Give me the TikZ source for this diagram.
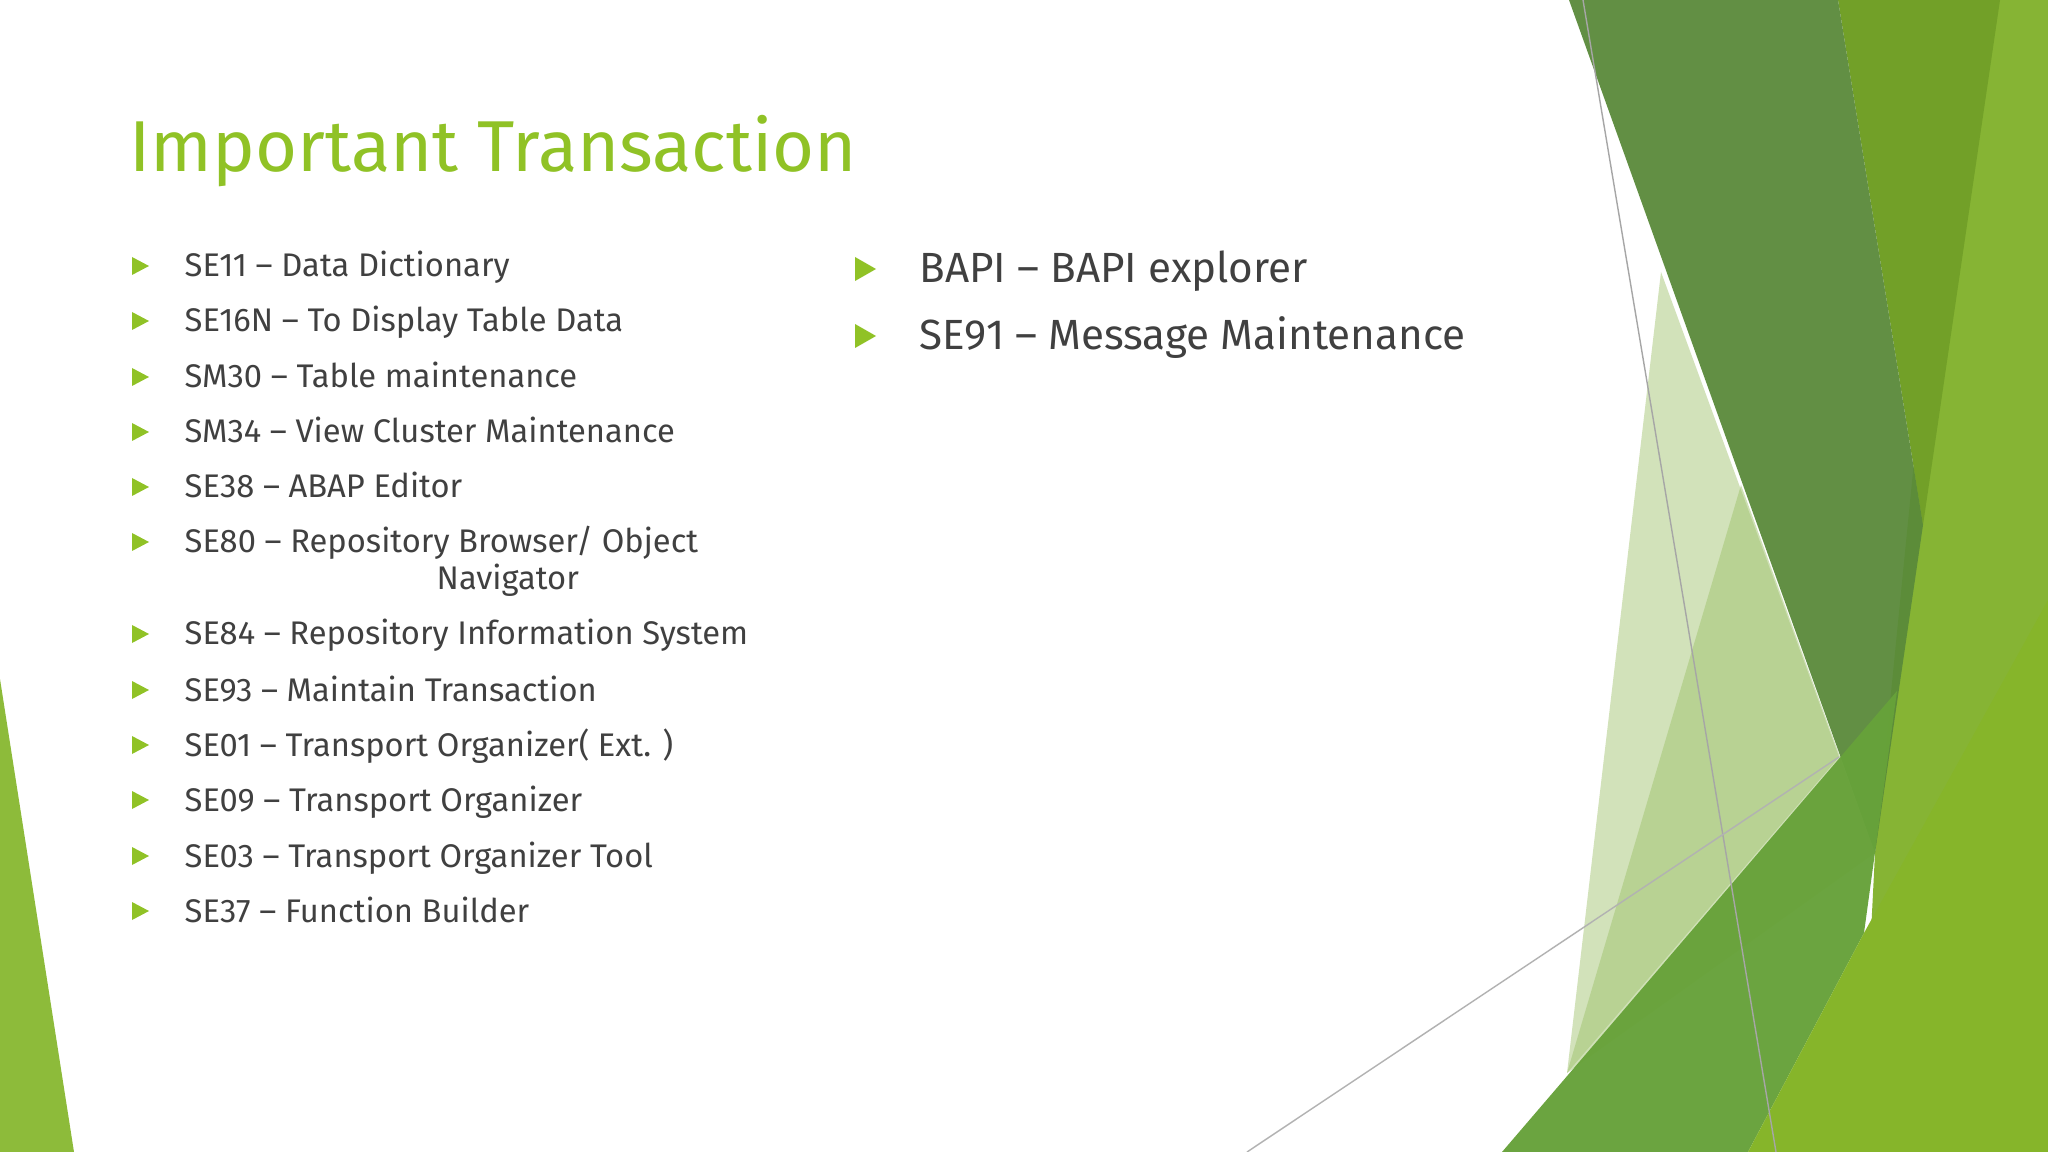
\documentclass[tikz,border=0pt]{standalone}
\usepackage{fontspec}
\setmainfont{Fira Sans}
\definecolor{tgreen}{HTML}{90C226}
\definecolor{ttext}{HTML}{404040}
\begin{document}
\begin{tikzpicture}[x=0.01cm,y=-0.01cm,
  item/.style={anchor=base west,inner sep=0,text=ttext,font=\fontsize{9.3}{11}\selectfont},
  bitem/.style={anchor=base west,inner sep=0,text=ttext,font=\fontsize{12}{14}\selectfont},
  tri/.style={fill=tgreen}]
\useasboundingbox (0,0) rectangle (2048,1152);
\fill[white] (0,0) rectangle (2048,1152);
% decoration
\fill[fill={rgb,255:red,141;green,187;blue,58}] (0,679) -- (0,1152) -- (74,1152) -- cycle;
\fill[fill={rgb,255:red,134;green,180;blue,52}] (1960,0) -- (2048,0) -- (2048,1152) -- (1860,1152) -- (1875,853) -- cycle;
\fill[fill={rgb,255:red,114;green,160;blue,40}] (1838,0) -- (2000,0) -- (1923,525) -- cycle;
\fill[fill={rgb,255:red,90;green,138;blue,58},opacity=0.95] (1569,0) -- (1838,0) -- (1923,525) -- (1875,853) -- cycle;
\fill[fill={rgb,255:red,180;green,207;blue,140},opacity=0.6] (1661,272) -- (1567,1073) -- (1839,757) -- cycle;
\fill[fill={rgb,255:red,160;green,195;blue,110},opacity=0.5] (1741,485) -- (1567,1073) -- (1875,853) -- cycle;
\fill[fill={rgb,255:red,103;green,162;blue,58},opacity=0.97] (1502,1152) -- (1897,691) -- (1864,933) -- (1748,1152) -- cycle;
\fill[fill={rgb,255:red,134;green,181;blue,42}] (1748,1152) -- (1864,933) -- (2048,600) -- (2048,1152) -- cycle;
\coordinate (l1a) at (1583,0); \coordinate (l1b) at (1776,1152);
\coordinate (l2a) at (1247,1152); \coordinate (l2b) at (1839,757);
\draw[gray!70,line width=0.4pt] (l1a) -- (l1b);
\draw[gray!60,line width=0.4pt] (l2a) -- (l2b);
% title
\node[anchor=base west,inner sep=0,text=tgreen,font=\fontsize{20.5}{24}\selectfont] (title) at (129,172) {Important Transaction};
% left list
\foreach \y/\t [count=\i] in {
 277/{SE11 – Data Dictionary},
 332/{SE16N – To Display Table Data},
 388/{SM30 – Table maintenance},
 443/{SM34 – View Cluster Maintenance},
 498/{SE38 – ABAP Editor},
 553/{SE80 – Repository Browser/ Object},
 645/{SE84 – Repository Information System},
 701/{SE93 – Maintain Transaction},
 756/{SE01 – Transport Organizer( Ext. )},
 811/{SE09 – Transport Organizer},
 867/{SE03 – Transport Organizer Tool},
 922/{SE37 – Function Builder}} {
  \fill[tri] (132,\y-20) -- (149,\y-11) -- (132,\y-2) -- cycle;
  \node[item] (it\i) at (184,\y) {\t};
}
\node[item] (nav) at (436,590) {Navigator};
% right list
\fill[tri] (855,257) -- (876,269) -- (855,281) -- cycle;
\node[bitem] (r1) at (919,283) {BAPI – BAPI explorer};
\fill[tri] (855,324) -- (876,336) -- (855,348) -- cycle;
\node[bitem] (r2) at (919,350) {SE91 – Message Maintenance};
\end{tikzpicture}
\end{document}
